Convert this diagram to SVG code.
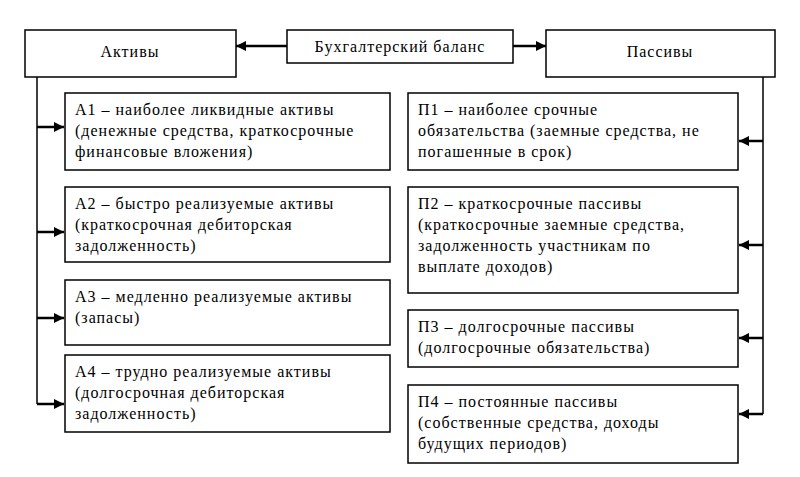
<svg xmlns="http://www.w3.org/2000/svg" width="800" height="477" viewBox="0 0 800 477">
<defs>
<style>
rect{fill:#fff;stroke:#000;stroke-width:1.5}
text{font-family:"Liberation Serif","Times New Roman","DejaVu Serif",serif;font-size:16px;letter-spacing:1px;fill:#000}
.c{stroke:#000;stroke-width:1.5;fill:none}
.h{stroke:#000;stroke-width:2.5;fill:none}
</style>
<marker id="a" viewBox="0 0 10 10" refX="10" refY="5" markerWidth="4" markerHeight="4" orient="auto"><path d="M0,0 L10,5 L0,10z" fill="#000"/></marker>
</defs>
<rect x="0" y="0" width="800" height="477" style="stroke:none"/>
<g id="connectors">
<path class="h" d="M287,46 H236" marker-end="url(#a)"/>
<path class="h" d="M513,46 H546" marker-end="url(#a)"/>
<path class="c" d="M37,77 V404"/>
<path class="h" d="M37,127 H64" marker-end="url(#a)"/>
<path class="h" d="M37,232 H64" marker-end="url(#a)"/>
<path class="h" d="M37,318 H64" marker-end="url(#a)"/>
<path class="h" d="M37,404 H64" marker-end="url(#a)"/>
<path class="c" d="M763,77 V414"/>
<path class="h" d="M763,141 H739" marker-end="url(#a)"/>
<path class="h" d="M763,245 H739" marker-end="url(#a)"/>
<path class="h" d="M763,338 H739" marker-end="url(#a)"/>
<path class="h" d="M763,414 H739" marker-end="url(#a)"/>
</g>
<g id="aktivy"><rect x="25" y="30" width="211" height="47"/><text x="130" y="57" text-anchor="middle">Активы</text></g>
<g id="balans"><rect x="287" y="30" width="226" height="33"/><text x="400" y="52" text-anchor="middle">Бухгалтерский баланс</text></g>
<g id="passivy"><rect x="546" y="30" width="229" height="47"/><text x="660" y="57" text-anchor="middle">Пассивы</text></g>
<g id="a1"><rect x="65" y="93" width="325" height="77"/><text x="75" y="115">А1 – наиболее ликвидные активы</text><text x="75" y="136">(денежные средства, краткосрочные</text><text x="75" y="157">финансовые вложения)</text></g>
<g id="a2"><rect x="65" y="187" width="325" height="75"/><text x="75" y="209">А2 – быстро реализуемые активы</text><text x="75" y="230">(краткосрочная дебиторская</text><text x="75" y="251">задолженность)</text></g>
<g id="a3"><rect x="65" y="280" width="325" height="65"/><text x="75" y="302">А3 – медленно реализуемые активы</text><text x="75" y="323">(запасы)</text></g>
<g id="a4"><rect x="65" y="355" width="325" height="77"/><text x="75" y="377">А4 – трудно реализуемые активы</text><text x="75" y="398">(долгосрочная дебиторская</text><text x="75" y="419">задолженность)</text></g>
<g id="p1"><rect x="408" y="93" width="330" height="77"/><text x="418" y="115">П1 – наиболее срочные</text><text x="418" y="136">обязательства (заемные средства, не</text><text x="418" y="157">погашенные в срок)</text></g>
<g id="p2"><rect x="408" y="187" width="330" height="106"/><text x="418" y="209">П2 – краткосрочные пассивы</text><text x="418" y="230">(краткосрочные заемные средства,</text><text x="418" y="251">задолженность участникам по</text><text x="418" y="272">выплате доходов)</text></g>
<g id="p3"><rect x="408" y="310" width="330" height="57"/><text x="418" y="332">П3 – долгосрочные пассивы</text><text x="418" y="353">(долгосрочные обязательства)</text></g>
<g id="p4"><rect x="408" y="385" width="330" height="78"/><text x="418" y="407">П4 – постоянные пассивы</text><text x="418" y="428">(собственные средства, доходы</text><text x="418" y="449">будущих периодов)</text></g>
</svg>
